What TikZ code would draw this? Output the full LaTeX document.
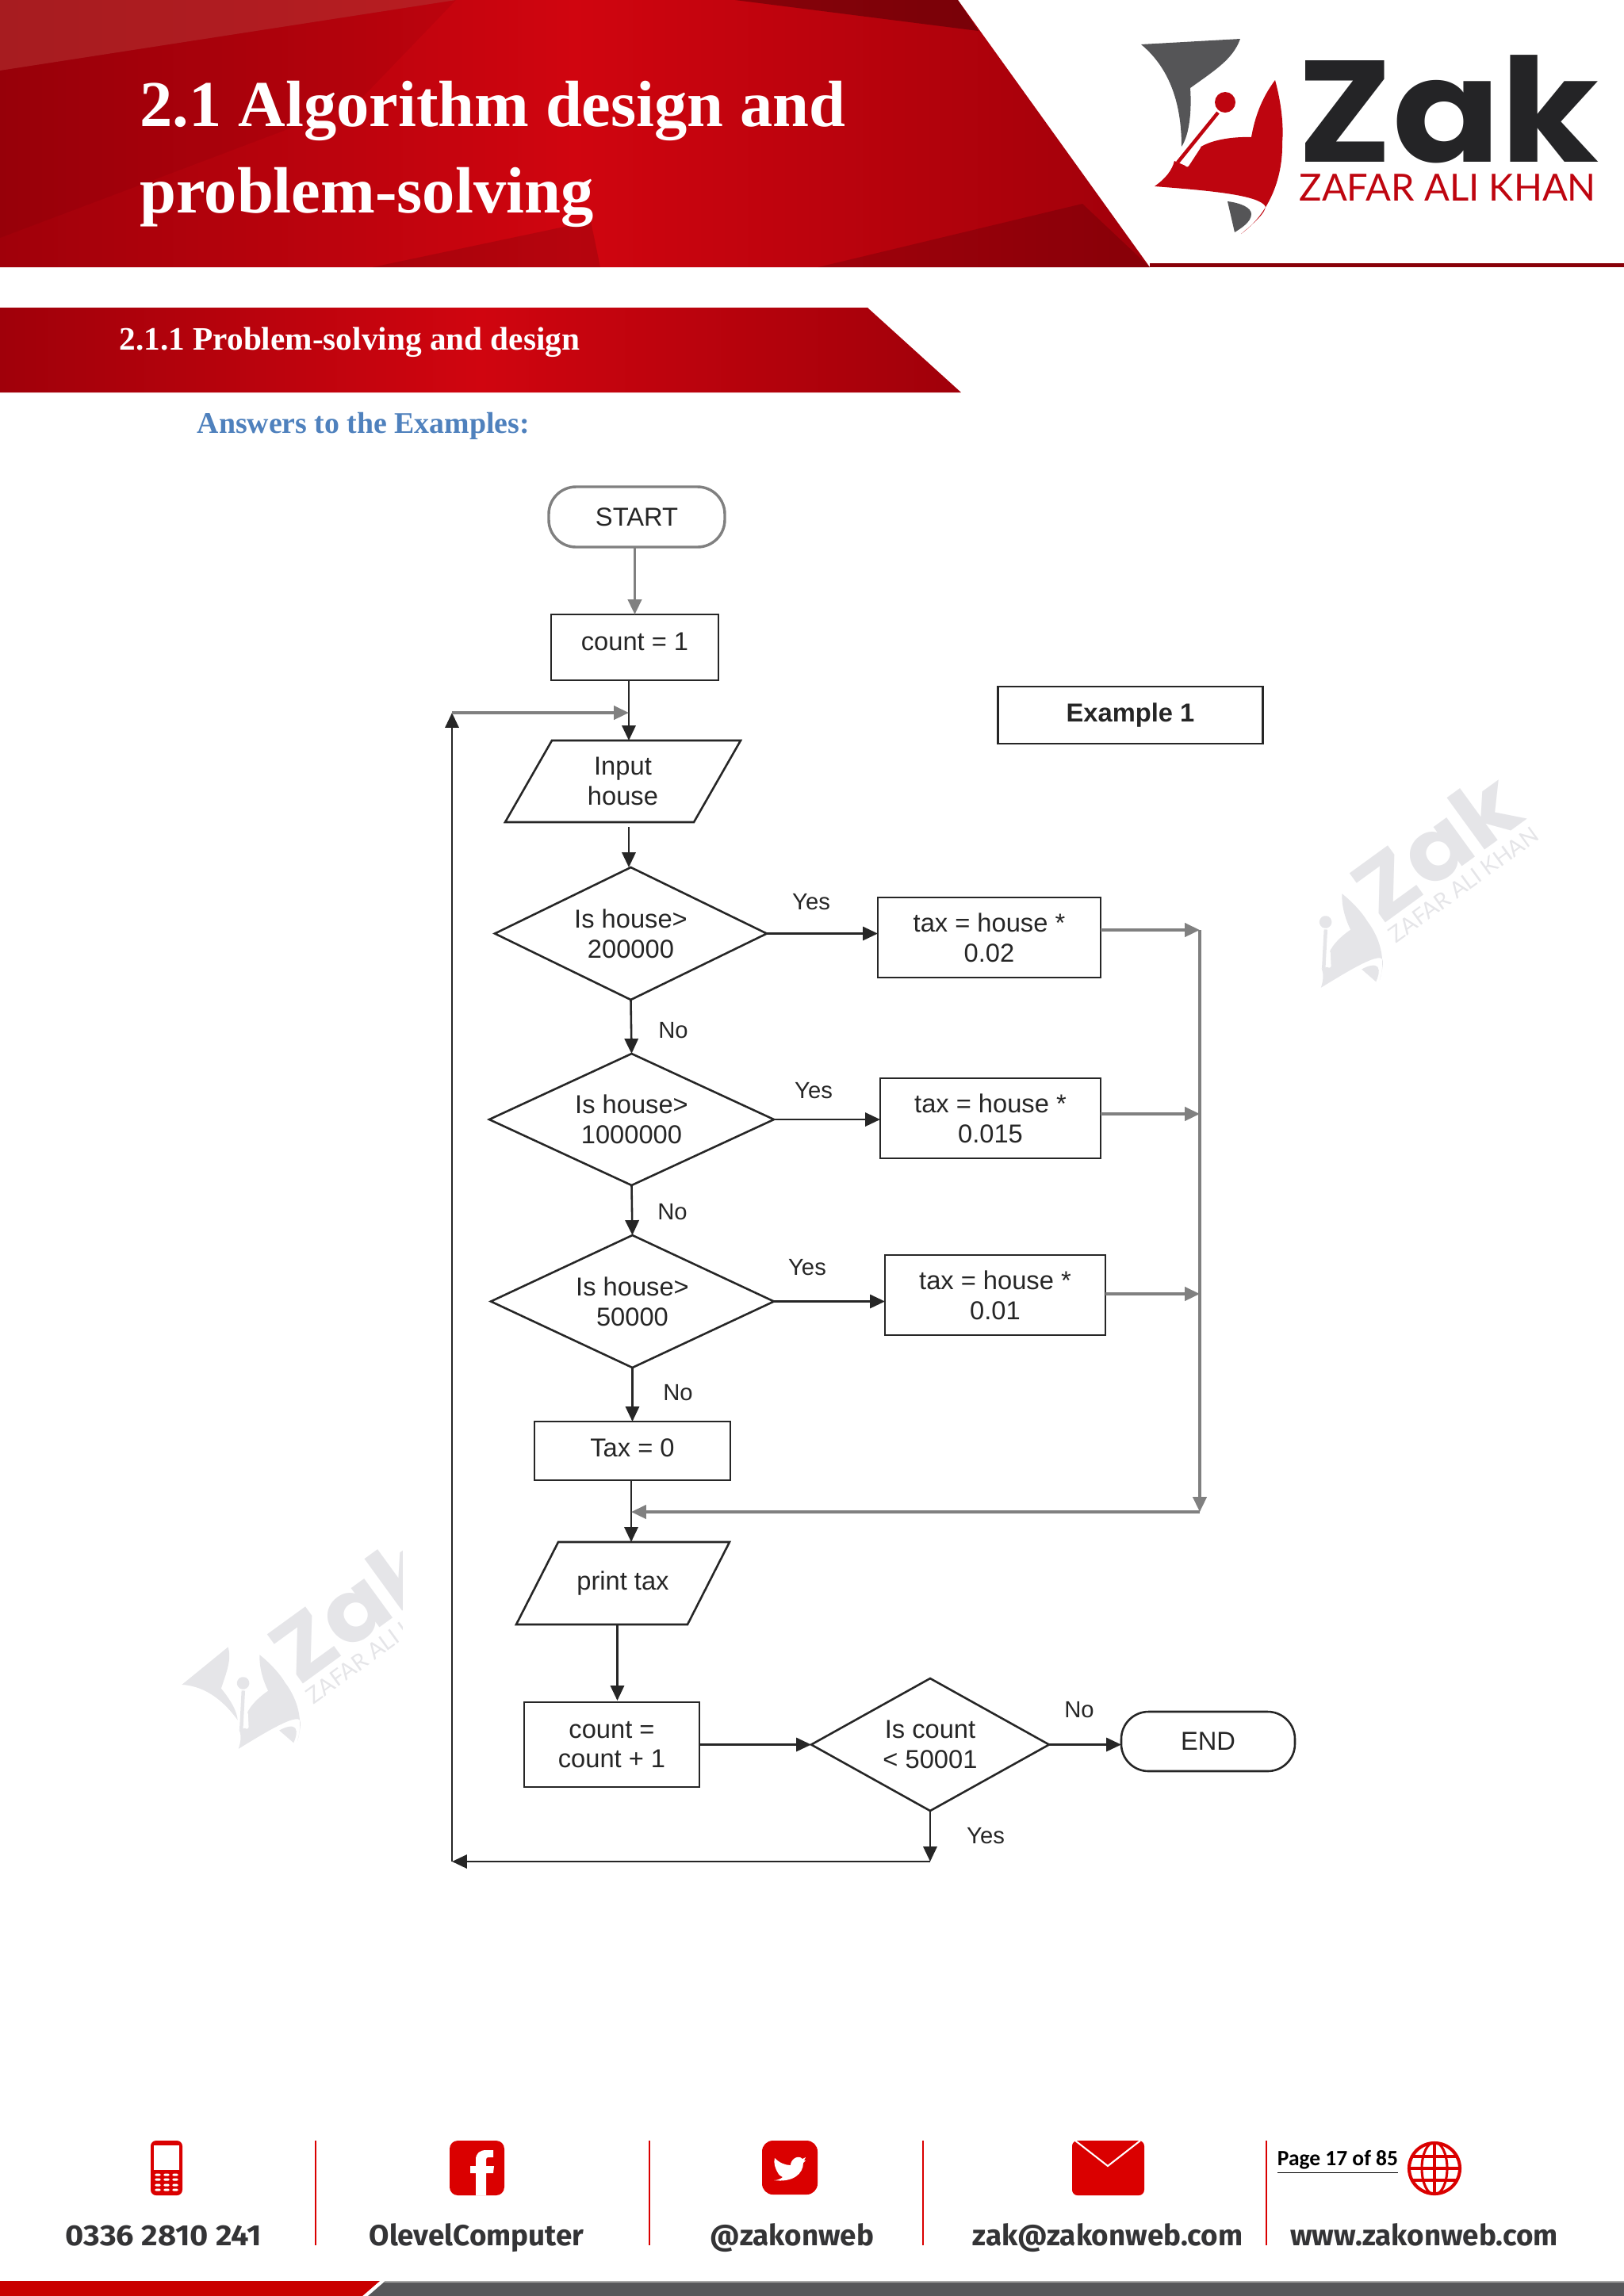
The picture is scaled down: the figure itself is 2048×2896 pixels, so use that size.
\documentclass[tikz,border=0pt]{standalone}
\usepackage{fontspec}
\setmainfont{Liberation Serif}
\newfontfamily\flowfont{Liberation Sans}
\newfontfamily\footfont{Fira Sans}
\newfontfamily\wordfont{Poppins}
\newfontfamily\tagfont{Lato}
\newfontfamily\pagefont{Carlito}
\usetikzlibrary{arrows.meta,positioning,shapes.geometric,calc}
\def\pxu{0.29072pt}
\definecolor{bandark}{RGB}{160,0,10}
\definecolor{banmid}{RGB}{208,5,15}
\definecolor{footred}{RGB}{218,0,0}
\definecolor{footgrey}{RGB}{52,52,54}
\definecolor{bargrey}{RGB}{87,87,90}
\definecolor{answerblue}{RGB}{79,129,189}
\definecolor{logored}{RGB}{190,5,15}
\definecolor{logodark}{RGB}{36,36,38}
\definecolor{logogrey}{RGB}{85,85,87}
\definecolor{markgrey}{RGB}{229,229,232}
\tikzset{
    flow/.style={line width=.75pt,draw=black!85},
    softflow/.style={line width=1pt,draw=black!50},
    arr/.style={flow,-{Triangle[length=5.5pt,width=5pt]}},
    softarr/.style={softflow,-{Triangle[length=5.5pt,width=5pt]}},
    flowtext/.style={font=\flowfont\fontsize{9.5}{11}\selectfont,text=black!85,align=center,inner sep=0pt,outer sep=0pt},
    yesno/.style={flowtext,font=\flowfont\fontsize{8.5}{10}\selectfont},
    procbox/.style 2 args={flow,flowtext,rectangle,minimum width=#1*\pxu,minimum height=#2*\pxu},
    termbox/.style 2 args={procbox={#1}{#2},rounded corners=10pt},
    decbox/.style 2 args={flow,flowtext,diamond,aspect=2,inner sep=-4pt,minimum width=#1*\pxu,minimum height=#2*\pxu},
    iobox/.style 2 args={flowtext,rectangle,minimum width=#1*\pxu,minimum height=#2*\pxu},
    footlabel/.style={anchor=base,inner sep=0pt,text=footgrey,font=\footfont\bfseries\fontsize{10.7}{12}\selectfont},
    footrule/.style={footred,line width=.5pt},
}
\newcommand{\zakfunnel}[1]{%
    \fill[#1] (1439,56) -- (1564,49) .. controls (1555,75) and (1530,90) .. (1501,111)
        .. controls (1503,140) and (1500,170) .. (1490,185)
        .. controls (1490,140) and (1480,90) .. (1439,56) -- cycle;
}
\newcommand{\zaklogo}[3]{%
    \fill[#2] (1608,101) .. controls (1616,130) and (1619,160) .. (1617,180)
        .. controls (1618,225) and (1600,270) .. (1565,295)
        .. controls (1590,275) and (1600,262) .. (1594,258)
        .. controls (1580,245) and (1520,240) .. (1456,235)
        .. controls (1470,225) and (1478,215) .. (1481,203) -- (1497,210) -- (1508,190)
        .. controls (1520,178) and (1550,172) .. (1578,173)
        .. controls (1582,150) and (1590,125) .. (1608,101) -- cycle;
    \fill[#3] (1548,254) .. controls (1565,256) and (1578,262) .. (1578,270)
        .. controls (1578,280) and (1565,288) .. (1557,293) -- cycle;
    \draw[white,line width=1.4pt,line cap=round] (1512,185) -- (1497,208);
    \draw[#2,line width=1.3pt] (1536,142) -- (1485,205);
    \fill[#2] (1545,129) circle (13);
    \node[anchor=base west,inner sep=0pt,text=#1,font=\wordfont\bfseries\fontsize{53}{53}\selectfont] (zakword) at (1636,204) {\scalebox{1.1}[1]{Zak}};
    \node[anchor=base west,inner sep=0pt,text=#2,font=\tagfont\fontsize{13.7}{14}\selectfont] (zaktag) at (1638,253) {ZAFAR ALI KHAN};
}
\begin{document}
\begin{tikzpicture}[x=\pxu,y=-\pxu]
    \useasboundingbox (0,0) rectangle (2048,2896);

    % header banner
    \shade[left color=bandark,right color=bandark,middle color=banmid]
        (0,0) -- (1208,0) -- (1450,337) -- (0,337) -- cycle;
    \fill[red!60!black!80!white,opacity=.55] (0,0) -- (575,0) -- (0,89) -- cycle;
    \fill[black,opacity=.05] (0,89) -- (575,0) -- (450,130) -- (0,300) -- cycle;
    \fill[black,opacity=.3] (927,0) -- (1208,0) -- (1234,39) -- cycle;
    \fill[black,opacity=.15] (1032,337) -- (1365,257) -- (1450,337) -- cycle;
    \fill[black,opacity=.12] (470,337) -- (745,279) -- (757,337) -- cycle;
    \fill[bandark!85!black] (1450,332) rectangle (2048,337);
    \node[anchor=base west,inner sep=0pt,text=white,font=\bfseries\fontsize{24}{24}\selectfont] (headone) at (176,159) {2.1 Algorithm design and};
    \node[anchor=base west,inner sep=0pt,text=white,font=\bfseries\fontsize{24}{24}\selectfont] (headtwo) at (176,268) {problem-solving};

    \zakfunnel{logogrey}
    \zaklogo{logodark}{logored}{logogrey}

    % sub banner
    \shade[left color=bandark,right color=bandark,middle color=banmid]
        (0,388) -- (1094,388) -- (1212,495) -- (0,495) -- cycle;
    \node[anchor=base west,inner sep=0pt,text=white,font=\bfseries\fontsize{12}{12}\selectfont] (subhead) at (150,441) {2.1.1 Problem-solving and design};
    \node[anchor=base west,inner sep=0pt,text=answerblue,font=\bfseries\fontsize{11}{11}\selectfont] (answers) at (248,546) {Answers to the Examples:};

    % watermarks
    \begin{scope}[shift={(1700,1103)},rotate=36,scale=.6,shift={(-1642,-76)},transform shape]
        \zaklogo{markgrey}{markgrey}{markgrey}
    \end{scope}
    \begin{scope}
        \clip (200,1900) rectangle (507,2250);
        \begin{scope}[shift={(335,2063)},rotate=36,scale=.6,shift={(-1642,-76)},transform shape]
            \zakfunnel{markgrey}
            \zaklogo{markgrey}{markgrey}{markgrey}
        \end{scope}
    \end{scope}

    % flowchart nodes
    \node[termbox={222}{76},softflow] (start) at (803,652) {START};
    \node[procbox={211}{83},text depth=4pt] (countone) at (800.5,816.5) {count = 1};
    \node[procbox={334}{72}] (exone) at (1425.5,902) {\bfseries Example 1};
    \node[iobox={297}{103}] (input) at (785.5,985.5) {Input\\house};
    \node[decbox={343}{167}] (houseone) at (795.5,1177.5) {Is house>\\200000};
    \node[procbox={281}{101}] (taxone) at (1247.5,1182.5) {tax = house *\\0.02};
    \node[decbox={359}{166}] (housetwo) at (796.5,1412) {Is house>\\1000000};
    \node[procbox={278}{101}] (taxtwo) at (1249,1410.5) {tax = house *\\0.015};
    \node[decbox={357}{167}] (housethree) at (797.5,1641.5) {Is house>\\50000};
    \node[procbox={278}{101}] (taxthree) at (1255,1633.5) {tax = house *\\0.01};
    \node[procbox={247}{74},text depth=2pt] (taxzero) at (797.5,1830) {Tax = 0};
    \node[iobox={269}{104}] (printtax) at (785.5,1997) {print tax};
    \node[procbox={221}{107}] (countup) at (771.5,2200.5) {count =\\count + 1};
    \node[decbox={300}{167}] (countcheck) at (1173,2200.5) {Is count\\< 50001};
    \node[termbox={219}{75}] (stopnode) at (1523.5,2196.5) {END};
    \draw[flow] ($(input.north west)+(59,0)$) -- (input.north east)
        -- ($(input.south east)+(-59,0)$) -- (input.south west) -- cycle;
    \draw[flow] ($(printtax.north west)+(53,0)$) -- (printtax.north east)
        -- ($(printtax.south east)+(-53,0)$) -- (printtax.south west) -- cycle;

    % named bends of the connectors
    \coordinate (joinin) at (793,899);
    \coordinate (looptop) at (570,899);
    \coordinate (loopbot) at (570,2348);
    \coordinate (loopfoot) at (1173,2348);
    \coordinate (railtop) at (1513,1173);
    \coordinate (railmid) at (1513,1405);
    \coordinate (raillow) at (1513,1632);
    \coordinate (railbot) at (1513,1907);
    \coordinate (joinout) at (796,1907);

    % connectors
    \draw[softarr] (countone.north |- start.south) -- (countone.north);
    \draw[arr] (countone.south -| joinin) -- (joinin |- input.north);
    \draw[arr] (joinin |- input.south) ++(0,6) -- (houseone.north -| joinin);
    \draw[arr] (houseone.south) -- (housetwo.north);
    \draw[arr] (housetwo.south) -- (housethree.north);
    \draw[arr] (housethree.south) -- (housethree.south |- taxzero.north);
    \draw[arr] (taxzero.south -| joinout) -- (joinout |- printtax.north);
    \draw[arr] (printtax.south -| countup.north) ++(7,0) -- ++(0,96);
    \draw[arr] (houseone.east) -- (houseone.east -| taxone.west);
    \draw[arr] (housetwo.east) -- (housetwo.east -| taxtwo.west);
    \draw[arr] (housethree.east) -- (housethree.east -| taxthree.west);
    \draw[arr] (countup.east |- countcheck.west) -- (countcheck.west);
    \draw[arr] (countcheck.east) -- (countcheck.east -| stopnode.west);
    \draw[arr] (countcheck.south) -- (loopfoot);
    \draw[arr] (loopfoot) -- (loopbot);
    \draw[arr] (loopbot) -- (looptop);
    \draw[softarr] (looptop) -- (joinin);
    \draw[softarr] (taxone.east |- railtop) -- (railtop);
    \draw[softarr] (taxtwo.east |- railmid) -- (railmid);
    \draw[softarr] (taxthree.east |- raillow) -- (raillow);
    \draw[softarr] (railtop) -- (railbot);
    \draw[softarr] (railbot) -- (joinout);

    % branch labels
    \node[yesno] (yesone) at (1023,1138) {Yes};
    \node[yesno] (yestwo) at (1026,1376) {Yes};
    \node[yesno] (yesthree) at (1018,1599) {Yes};
    \node[yesno] (yesfour) at (1243,2316) {Yes};
    \node[yesno] (noone) at (849,1300) {No};
    \node[yesno] (notwo) at (848,1529) {No};
    \node[yesno] (nothree) at (855,1757) {No};
    \node[yesno] (nofour) at (1361,2157) {No};

    % footer icons
    \fill[footred,rounded corners=2pt] (190,2700) rectangle (230,2769);
    \fill[white] (194,2706) rectangle (226,2737);
    \foreach \ky in {2743,2749,2756,2762}
        \foreach \kx in {199,210,221}
            \fill[white,rounded corners=.5pt] (\kx-4,\ky-1.5) rectangle (\kx+4,\ky+1.5);
    \fill[footred,rounded corners=3pt] (567,2700) rectangle (636,2769);
    \fill[white] (600,2769) -- (600,2741) -- (593,2741) -- (593,2732) -- (600,2732) -- (600,2724)
        .. controls (600,2716) and (605,2712) .. (613,2712) -- (622,2712) -- (622,2721) -- (616,2721)
        .. controls (614,2721) and (613,2722) .. (613,2724) -- (613,2732) -- (623,2732) -- (622,2741)
        -- (613,2741) -- (613,2769) -- cycle;
    \fill[footred,rounded corners=4pt] (961,2700) rectangle (1031,2768);
    \fill[white] (977,2722) .. controls (983,2728) and (990,2731) .. (997,2731)
        .. controls (997,2724) and (1006,2717) .. (1012,2723) -- (1016,2721) -- (1014,2725) -- (1016,2725) -- (1013,2728)
        .. controls (1013,2742) and (1000,2753) .. (976,2750)
        .. controls (981,2750) and (985,2748) .. (987,2746)
        .. controls (983,2744) and (981,2742) .. (980,2739)
        .. controls (978,2735) and (975,2728) .. (977,2722) -- cycle;
    \fill[footred,rounded corners=2pt] (1352,2700) rectangle (1443,2769);
    \draw[white,line width=.6pt] (1356,2700) -- (1397,2732) -- (1438,2700);
    \begin{scope}
        \clip (1809,2735) circle (33);
        \draw[footred,line width=.9pt] (1809,2735) ellipse (16 and 33);
        \draw[footred,line width=.9pt] (1809,2702) -- (1809,2768);
        \foreach \gy in {-15,0,15}
            \draw[footred,line width=.9pt] (1775,2735+\gy) -- (1843,2735+\gy);
    \end{scope}
    \draw[footred,line width=1.2pt] (1809,2735) circle (32);

    % footer text and rules
    \foreach \rx in {398,819,1164,1597}
        \draw[footrule] (\rx,2700) -- (\rx,2832);
    \node[footlabel] (phone) at (206,2832) {\scalebox{1.08}[1]{0336 2810 241}};
    \node[footlabel] (fbname) at (601,2832) {OlevelComputer};
    \node[footlabel] (twname) at (999,2832) {@zakonweb};
    \node[footlabel] (mailname) at (1397,2832) {zak@zakonweb.com};
    \node[footlabel] (webname) at (1796,2832) {www.zakonweb.com};
    \node[anchor=base,inner sep=0pt,font=\pagefont\bfseries\fontsize{8}{8}\selectfont] (pagenum) at (1687,2731) {\underline{Page 17 of 85}};

    % bottom bar
    \fill[footred!92!black] (0,2877) -- (479,2877) -- (457,2896) -- (0,2896) -- cycle;
    \fill[bargrey] (486,2877) -- (2048,2877) -- (2048,2896) -- (464,2896) -- cycle;
    \fill[black!35] (486,2877) -- (2048,2877) -- (2048,2879) -- (484,2879) -- cycle;
\end{tikzpicture}
\end{document}
